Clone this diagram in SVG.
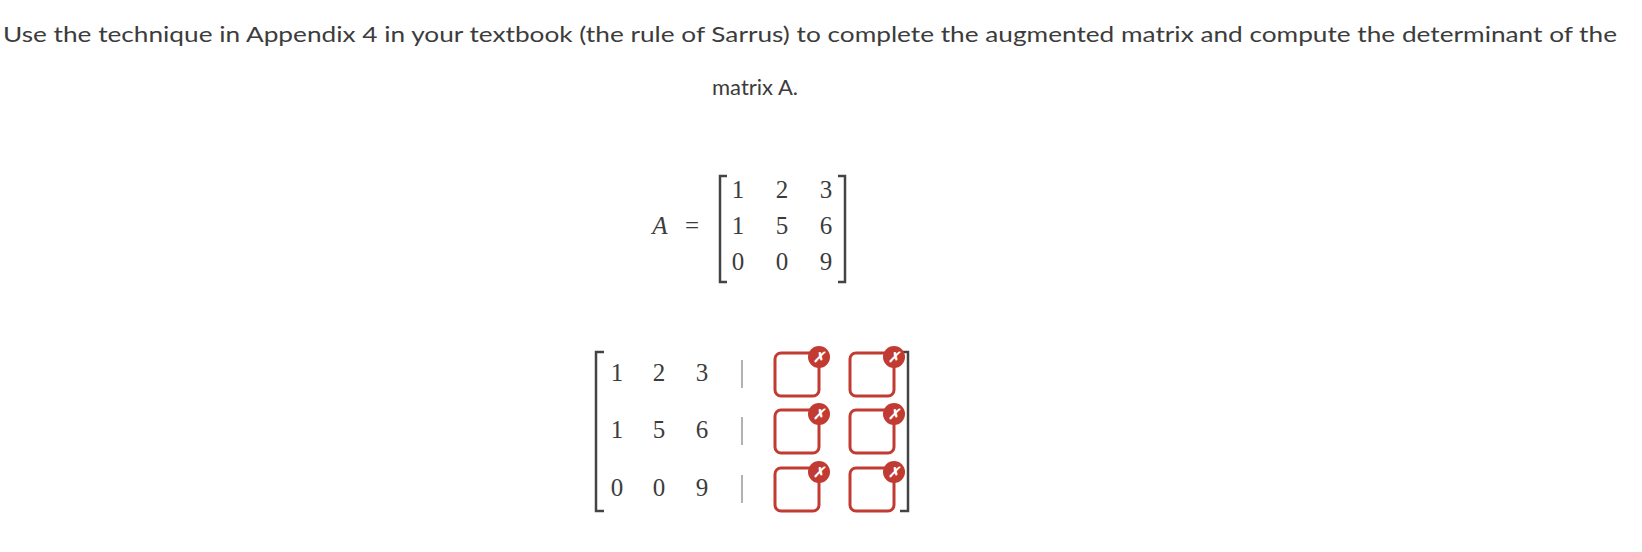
<svg xmlns="http://www.w3.org/2000/svg" width="1642" height="552" viewBox="0 0 1642 552">
<style>
.t{font-family:"Lato","Noto Sans",sans-serif;font-size:22px;fill:#3c3c3c}
.m{font-family:"Liberation Serif",serif;font-size:25px;fill:#3c3c3c;text-anchor:middle}
.br{fill:none;stroke:#444;stroke-width:2.5}
.bx{fill:#fff;stroke:#c23b32;stroke-width:3}
.bd{fill:#c23b32}
.x{font-family:"Liberation Sans",sans-serif;font-size:14px;font-style:italic;font-weight:bold;fill:#fff;text-anchor:middle}
</style>
<rect width="1642" height="552" fill="#fff"/>
<text class="t" x="3" y="42" textLength="1614" lengthAdjust="spacingAndGlyphs">Use the technique in Appendix 4 in your textbook (the rule of Sarrus) to complete the augmented matrix and compute the determinant of the</text>
<text class="t" x="755" y="95" text-anchor="middle" font-size="23">matrix A.</text>
<g id="matrixA">
<text class="m" x="660" y="234" font-style="italic">A</text>
<text class="m" x="692" y="234">=</text>
<path class="br" d="M727,176 H720 V282 H727"/>
<path class="br" d="M838,176 H845 V282 H838"/>
<text class="m" x="738" y="198">1</text><text class="m" x="782" y="198">2</text><text class="m" x="826" y="198">3</text>
<text class="m" x="738" y="234">1</text><text class="m" x="782" y="234">5</text><text class="m" x="826" y="234">6</text>
<text class="m" x="738" y="270">0</text><text class="m" x="782" y="270">0</text><text class="m" x="826" y="270">9</text>
</g>
<g id="augmented">
<path class="br" d="M604,352 H596 V511 H604"/>
<path class="br" d="M900,352 H908 V511 H900"/>
<g class="m" font-size="26">
<text x="617" y="381">1</text><text x="659" y="381">2</text><text x="702" y="381">3</text>
<text x="617" y="438">1</text><text x="659" y="438">5</text><text x="702" y="438">6</text>
<text x="617" y="496">0</text><text x="659" y="496">0</text><text x="702" y="496">9</text>
</g>
<g stroke="#999" stroke-width="1.5">
<line x1="742" y1="360" x2="742" y2="388"/>
<line x1="742" y1="417" x2="742" y2="445"/>
<line x1="742" y1="475" x2="742" y2="503"/>
</g>
</g>
<g id="inputs">
<g id="in11"><rect class="bx" x="775" y="353" width="44" height="43" rx="6"/><circle class="bd" cx="819" cy="357" r="11"/><text class="x" x="819" y="362">✗</text></g>
<g id="in12"><rect class="bx" x="850" y="353" width="44" height="43" rx="6"/><circle class="bd" cx="894" cy="357" r="11"/><text class="x" x="894" y="362">✗</text></g>
<g id="in21"><rect class="bx" x="775" y="410" width="44" height="43" rx="6"/><circle class="bd" cx="819" cy="414" r="11"/><text class="x" x="819" y="419">✗</text></g>
<g id="in22"><rect class="bx" x="850" y="410" width="44" height="43" rx="6"/><circle class="bd" cx="894" cy="414" r="11"/><text class="x" x="894" y="419">✗</text></g>
<g id="in31"><rect class="bx" x="775" y="468" width="44" height="43" rx="6"/><circle class="bd" cx="819" cy="472" r="11"/><text class="x" x="819" y="477">✗</text></g>
<g id="in32"><rect class="bx" x="850" y="468" width="44" height="43" rx="6"/><circle class="bd" cx="894" cy="472" r="11"/><text class="x" x="894" y="477">✗</text></g>
</g>
</svg>
